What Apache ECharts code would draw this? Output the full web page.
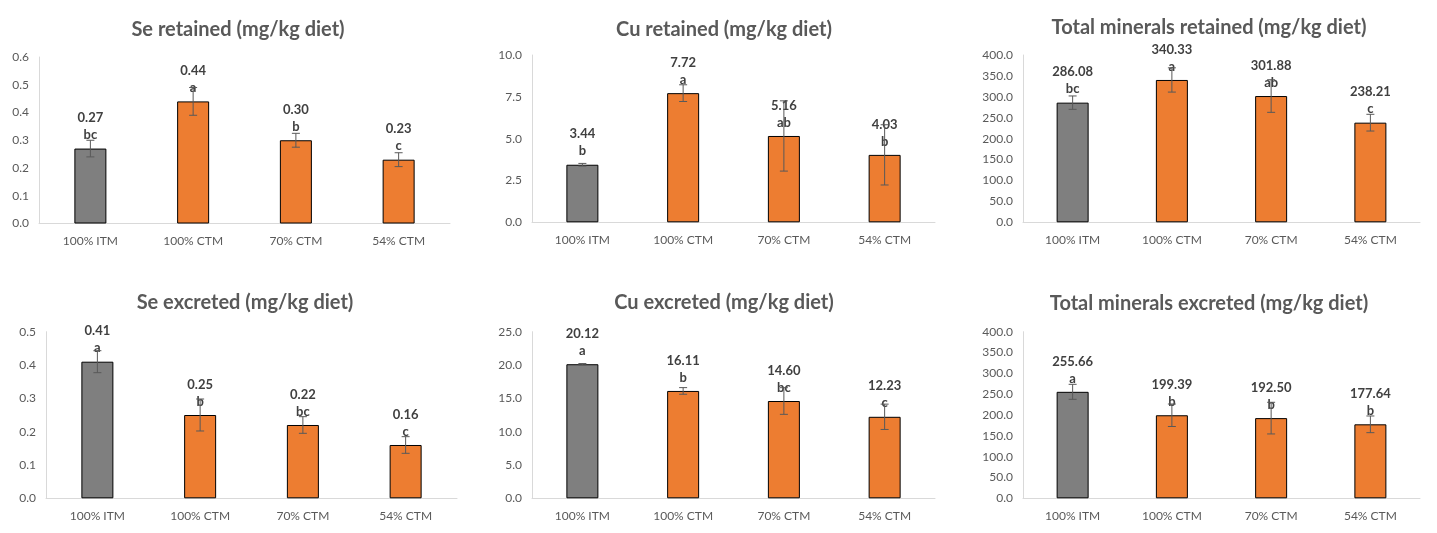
<!DOCTYPE html>
<html>
<head>
<meta charset="utf-8">
<script src="https://cdn.jsdelivr.net/npm/echarts@6/dist/echarts.min.js"></script>
<style>
  html, body { margin: 0; padding: 0; background: #fff; }
  #chart { width: 1437px; height: 533px; }
</style>
</head>
<body>
<div id="chart"></div>
<script>
// data
var categories = ['100% ITM', '100% CTM', '70% CTM', '54% CTM'];

var seRetained = [0.27, 0.44, 0.30, 0.23];
var seRetainedErr = [0.03, 0.05, 0.025, 0.025];
var seRetainedLetters = ['bc', 'a', 'b', 'c'];

var cuRetained = [3.44, 7.72, 5.16, 4.03];
var cuRetainedErr = [0.08, 0.5, 2.1, 1.8];
var cuRetainedLetters = ['b', 'a', 'ab', 'b'];

var totalRetained = [286.08, 340.33, 301.88, 238.21];
var totalRetainedErr = [16, 29, 39, 20];
var totalRetainedLetters = ['bc', 'a', 'ab', 'c'];

var seExcreted = [0.41, 0.25, 0.22, 0.16];
var seExcretedErr = [0.033, 0.048, 0.025, 0.025];
var seExcretedLetters = ['a', 'b', 'bc', 'c'];

var cuExcreted = [20.12, 16.11, 14.60, 12.23];
var cuExcretedErr = [0.1, 0.5, 2.0, 1.9];
var cuExcretedLetters = ['a', 'b', 'bc', 'c'];

var totalExcreted = [255.66, 199.39, 192.50, 177.64];
var totalExcretedErr = [18, 27, 38, 20];
var totalExcretedLetters = ['a', 'b', 'b', 'b'];

var panels = [
  { title: 'Se retained (mg/kg diet)', vals: seRetained, err: seRetainedErr, letters: seRetainedLetters, max: 0.6, step: 0.1,
    grid: { left: 39, top: 57, width: 411, height: 166.5 }, tx: 233, ty: 15 },
  { title: 'Cu retained (mg/kg diet)', vals: cuRetained, err: cuRetainedErr, letters: cuRetainedLetters, max: 10, step: 2.5,
    grid: { left: 532, top: 55, width: 403, height: 167.3 }, tx: 719, ty: 15 },
  { title: 'Total minerals retained (mg/kg diet)', vals: totalRetained, err: totalRetainedErr, letters: totalRetainedLetters, max: 400, step: 50,
    grid: { left: 1023, top: 55, width: 397, height: 167.3 }, tx: 1204, ty: 13 },
  { title: 'Se excreted (mg/kg diet)', vals: seExcreted, err: seExcretedErr, letters: seExcretedLetters, max: 0.5, step: 0.1,
    grid: { left: 46, top: 331.7, width: 411, height: 166.6 }, tx: 240, ty: 288 },
  { title: 'Cu excreted (mg/kg diet)', vals: cuExcreted, err: cuExcretedErr, letters: cuExcretedLetters, max: 25, step: 5,
    grid: { left: 532, top: 331.7, width: 403, height: 166.6 }, tx: 719, ty: 288 },
  { title: 'Total minerals excreted (mg/kg diet)', vals: totalExcreted, err: totalExcretedErr, letters: totalExcretedLetters, max: 400, step: 50,
    grid: { left: 1023, top: 331.7, width: 397, height: 166.6 }, tx: 1204, ty: 289 }
];

var textColor = '#595959';
var fontFam = 'Lato, "Open Sans", sans-serif';

var chart = echarts.init(document.getElementById('chart'));

var option = {
  animation: false,
  backgroundColor: '#fff',
  title: [],
  grid: [],
  xAxis: [],
  yAxis: [],
  series: []
};

panels.forEach(function (p, i) {
  option.title.push({
    text: p.title,
    left: p.tx,
    top: p.ty,
    textAlign: 'center',
    textStyle: { color: textColor, fontSize: 20, fontWeight: 'bold', fontFamily: fontFam }
  });
  option.grid.push(p.grid);
  option.xAxis.push({
    type: 'category',
    gridIndex: i,
    data: categories,
    axisLine: { show: true, lineStyle: { color: '#D9D9D9' } },
    axisTick: { show: false },
    axisLabel: { color: textColor, fontSize: 12, fontFamily: fontFam, margin: 12 }
  });
  option.yAxis.push({
    type: 'value',
    gridIndex: i,
    min: 0,
    max: p.max,
    interval: p.step,
    axisLine: { show: true, lineStyle: { color: '#D9D9D9' } },
    axisTick: { show: false },
    splitLine: { show: false },
    axisLabel: {
      color: textColor, fontSize: 12, fontFamily: fontFam, margin: 10,
      formatter: function (v) { return v.toFixed(1); }
    }
  });
  option.series.push({
    type: 'bar',
    xAxisIndex: i,
    yAxisIndex: i,
    barWidth: 32,
    data: p.vals.map(function (v, j) {
      return {
        value: v,
        itemStyle: { color: j === 0 ? '#7F7F7F' : '#ED7D31', borderColor: '#000', borderWidth: 1 }
      };
    }),
    label: {
      show: true,
      position: 'top',
      distance: 5,
      formatter: function (params) {
        return '{v|' + p.vals[params.dataIndex].toFixed(2) + '}\n{l|' + p.letters[params.dataIndex] + '}';
      },
      rich: {
        v: { fontSize: 13, fontWeight: 'bold', color: '#404040', fontFamily: fontFam, lineHeight: 17 },
        l: { fontSize: 13, fontWeight: 'bold', color: '#404040', fontFamily: fontFam, lineHeight: 17 }
      }
    },
    z: 2
  });
  option.series.push({
    type: 'custom',
    xAxisIndex: i,
    yAxisIndex: i,
    z: 5,
    data: p.vals.map(function (v, j) { return [j, v - p.err[j], v + p.err[j]]; }),
    renderItem: function (params, api) {
      var lo = api.coord([api.value(0), api.value(1)]);
      var hi = api.coord([api.value(0), api.value(2)]);
      var c = 4;
      var st = { stroke: '#595959', lineWidth: 1 };
      return {
        type: 'group',
        children: [
          { type: 'line', shape: { x1: hi[0], y1: hi[1], x2: lo[0], y2: lo[1] }, style: st },
          { type: 'line', shape: { x1: hi[0] - c, y1: hi[1], x2: hi[0] + c, y2: hi[1] }, style: st },
          { type: 'line', shape: { x1: lo[0] - c, y1: lo[1], x2: lo[0] + c, y2: lo[1] }, style: st }
        ]
      };
    }
  });
});

chart.setOption(option);
</script>
</body>
</html>
